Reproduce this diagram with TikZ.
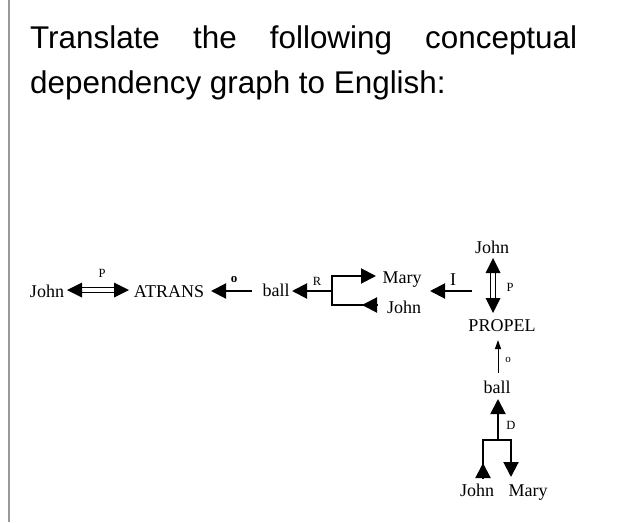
\documentclass[tikz,border=0pt]{standalone}
\usepackage{fontspec}
\setmainfont{Liberation Serif}
\newfontfamily\titlefont{Liberation Sans}
\usetikzlibrary{arrows.meta}
\tikzset{
  word/.style={inner sep=0pt, anchor=base, font=\fontsize{18}{18}\selectfont},
  lab/.style={inner sep=0pt, font=\fontsize{12.5}{12.5}\selectfont},
  ttl/.style={inner sep=0pt, anchor=base west, font=\titlefont\fontsize{31.4}{31.4}\selectfont},
  big/.style={-{Triangle[length=15pt,width=15pt]}, line width=2pt},
  dblline/.style={line width=1pt},
  thin/.style={-{Triangle[length=9pt,width=6pt]}, line width=1pt},
  seg/.style={line width=2pt}
}
\begin{document}
\begin{tikzpicture}[x=1pt,y=-1pt]
\useasboundingbox (0,0) rectangle (631,522);
\fill[white] (0,0) rectangle (631,522);
\fill[gray!80] (8,0) rectangle (10,522);
\node[ttl] (title1) at (30,48) {\makebox[547pt][s]{Translate the following conceptual}};
\node[ttl] (title2) at (30,93) {dependency graph to English:};
% left chain
\node[word] (j1) at (47,297) {John};
\node[word] (atrans) at (169,297) {ATRANS};
\node[word] (ball1) at (276,296) {ball};
\node[word] (mary1) at (402,283) {Mary};
\node[word] (john2) at (404,313) {John};
\coordinate (junc) at (332,291);
\coordinate (jt) at (332,276);
\coordinate (jb) at (332,305);
\coordinate (mt) at (376,276);
\coordinate (mb) at (362,305);
\coordinate (ostart) at (252,291);
\coordinate (istart) at (472,291);
\coordinate (jl) at (67,290);
\coordinate (al) at (129,290);
\coordinate (ar) at (211,291);
\coordinate (br) at (292,291);
% double arrow John <=> ATRANS
\draw[dblline] ([xshift=12pt,yshift=2.5pt]jl) -- ([xshift=-12pt,yshift=2.5pt]al);
\draw[dblline] ([xshift=12pt,yshift=-2.5pt]jl) -- ([xshift=-12pt,yshift=-2.5pt]al);
\fill (jl) -- ([xshift=15pt,yshift=7.5pt]jl) -- ([xshift=15pt,yshift=-7.5pt]jl) -- cycle;
\fill (al) -- ([xshift=-15pt,yshift=7.5pt]al) -- ([xshift=-15pt,yshift=-7.5pt]al) -- cycle;
\node[lab] (p1) at (102,273) {P};
\draw[big] (ostart) -- (ar);
\node[lab, font=\bfseries\fontsize{13}{13}\selectfont] (o1) at (234,279) {o};
\draw[big] (junc) -- (br);
\node[lab] (r1) at (317,281) {R};
\draw[seg] (jb) -- (jt);
\draw[big] ([xshift=-1pt]jt) -- (mt);
\draw[seg] ([xshift=-1pt]jb) -- ([xshift=14pt]mb);
\draw[big] ([xshift=15pt]mb) -- (mb);
\node[word] (i1) at (453,285) {I};
\draw[big] (istart) -- (430,291);
% right column
\node[word] (j3) at (492,253) {John};
\node[word] (propel) at (502,331) {PROPEL};
\coordinate (vt) at (493,258);
\coordinate (vb) at (493,313);
\draw[dblline] ([xshift=2.5pt,yshift=-12pt]vt) -- ([xshift=2.5pt,yshift=12pt]vb);
\draw[dblline] ([xshift=-2.5pt,yshift=-12pt]vt) -- ([xshift=-2.5pt,yshift=12pt]vb);
\fill (vt) -- ([xshift=7.5pt,yshift=-15pt]vt) -- ([xshift=-7.5pt,yshift=-15pt]vt) -- cycle;
\fill (vb) -- ([xshift=7.5pt,yshift=15pt]vb) -- ([xshift=-7.5pt,yshift=15pt]vb) -- cycle;
\node[lab] (p2) at (510,287) {P};
\node[word] (ball2) at (497,393) {ball};
\draw[thin] (498,373) -- (498,340);
\node[lab, font=\fontsize{11}{11}\selectfont] (o2) at (508,360) {o};
\coordinate (dbar) at (498,440);
\draw[big] (dbar) -- (498,399);
\node[lab] (d1) at (511,425) {D};
\draw[seg] (482,440) -- (512,440);
\draw[seg] (483,439) -- (483,472);
\draw[big] (483,478) -- (483,463);
\draw[big] (511,439) -- (511,477);
\node[word] (j4) at (477,496) {John};
\node[word] (mary2) at (528,496) {Mary};
\end{tikzpicture}
\end{document}
